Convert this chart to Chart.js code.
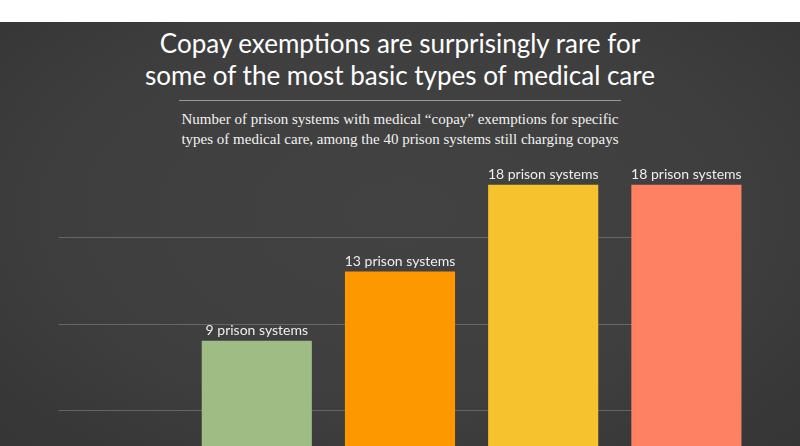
<!DOCTYPE html>
<html>
<head>
<meta charset="utf-8">
<script src="https://cdn.jsdelivr.net/npm/chart.js@4.4.1/dist/chart.umd.min.js"></script>
<style>
    html, body {
        margin: 0;
        padding: 0;
        width: 800px;
        height: 446px;
        overflow: hidden;
        background: #ffffff;
    }
    #panel {
        position: absolute;
        left: 0;
        top: 22px;
        width: 800px;
        height: 424px;
        background: radial-gradient(ellipse at 50% 45%, #424242 0%, #3f3f3f 55%, #353535 100%);
    }
    #title {
        position: absolute;
        left: 0;
        top: 5px;
        width: 800px;
        text-align: center;
        color: #ffffff;
        font-family: Lato, sans-serif;
        font-size: 26px;
        line-height: 32px;
    }
    #rule {
        position: absolute;
        left: 179px;
        top: 78px;
        width: 442px;
        height: 1px;
        background: #9a9a9a;
    }
    #subtitle {
        position: absolute;
        left: 0;
        top: 87px;
        width: 800px;
        text-align: center;
        color: #f2f2f2;
        font-family: "Liberation Serif", serif;
        font-size: 15px;
        line-height: 20px;
    }
    #chart-wrap {
        position: absolute;
        left: 0;
        top: 0;
        width: 800px;
        height: 520px;
    }
</style>
</head>
<body>
<div id="panel">
    <div id="title">Copay exemptions are surprisingly rare for<br>some of the most basic types of medical care</div>
    <div id="rule"></div>
    <div id="subtitle">Number of prison systems with medical “copay” exemptions for specific<br>types of medical care, among the 40 prison systems still charging copays</div>
</div>
<div id="chart-wrap"><canvas id="copay-chart"></canvas></div>
<script>
// first category sits below the visible crop, its value is not readable
const categories = ['Care type 1', 'Care type 2', 'Care type 3', 'Care type 4', 'Care type 5'];
const systemCounts = [0, 9, 13, 18, 18];
const barColors = ['#9ebc84', '#9ebc84', '#fd9800', '#f6c22e', '#ff8163'];
const gridValues = [5, 10, 15];

const barLabels = {
    id: 'barLabels',
    afterDatasetsDraw(chart) {
        const ctx = chart.ctx;
        const meta = chart.getDatasetMeta(0);
        ctx.save();
        ctx.font = '14px Lato, sans-serif';
        ctx.fillStyle = '#eeeeee';
        ctx.textAlign = 'center';
        ctx.textBaseline = 'bottom';
        meta.data.forEach((bar, i) => {
            ctx.fillText(systemCounts[i] + ' prison systems', bar.x, bar.y - 3);
        });
        ctx.restore();
    }
};

// grid lines only span from the first bar's left edge to the last bar's right edge
const shortGrid = {
    id: 'shortGrid',
    beforeDatasetsDraw(chart) {
        const ctx = chart.ctx;
        const meta = chart.getDatasetMeta(0);
        const first = meta.data[0];
        const last = meta.data[meta.data.length - 1];
        const left = first.x - first.width / 2;
        const right = last.x + last.width / 2;
        const yScale = chart.scales.y;
        ctx.save();
        ctx.strokeStyle = 'rgba(150, 150, 150, 0.45)';
        ctx.lineWidth = 1;
        gridValues.forEach(v => {
            const y = Math.round(yScale.getPixelForValue(v)) + 0.5;
            ctx.beginPath();
            ctx.moveTo(left, y);
            ctx.lineTo(right, y);
            ctx.stroke();
        });
        ctx.restore();
    }
};

new Chart(document.getElementById('copay-chart'), {
    type: 'bar',
    data: {
        labels: categories,
        datasets: [{
            label: 'Prison systems',
            data: systemCounts,
            backgroundColor: barColors,
            borderWidth: 0,
            barPercentage: 1,
            categoryPercentage: 0.769
        }]
    },
    options: {
        responsive: true,
        maintainAspectRatio: false,
        animation: false,
        layout: {
            padding: { top: 150, bottom: 23, left: 42, right: 42 }
        },
        scales: {
            x: { display: false },
            y: { display: false, min: 0, max: 20 }
        },
        plugins: {
            legend: { display: false },
            tooltip: { enabled: false }
        }
    },
    plugins: [shortGrid, barLabels]
});
</script>
</body>
</html>
